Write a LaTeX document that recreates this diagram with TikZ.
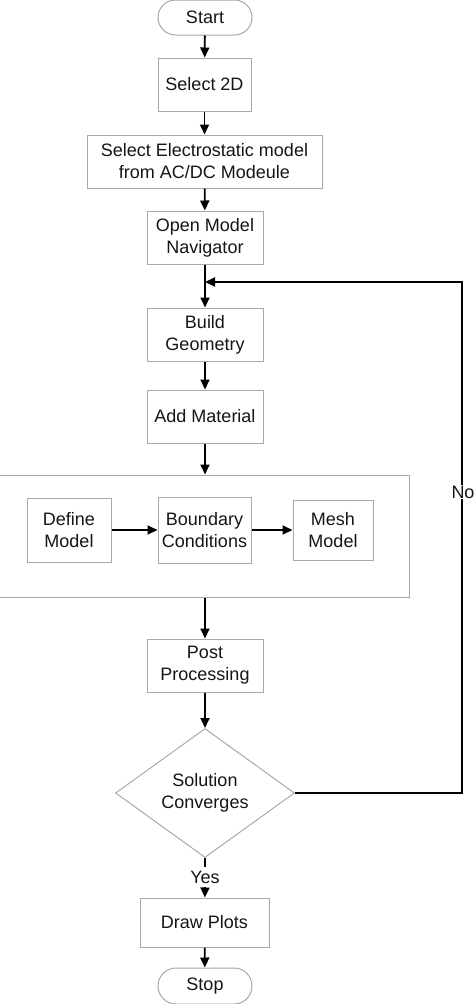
\documentclass[tikz,border=0pt]{standalone}
\usepackage{fontspec}
\setmainfont{Liberation Sans}
\usetikzlibrary{arrows.meta,shapes.geometric,shapes.misc}
\definecolor{boxgray}{HTML}{A8A8A8}
\definecolor{inkc}{HTML}{151515}
\begin{document}
\begin{tikzpicture}[x=1pt,y=-1pt,
  every node/.style={font=\fontsize{18}{22}\selectfont, text=inkc, align=center},
  procbox/.style={draw=boxgray, line width=1pt, rectangle, inner sep=0pt},
  termbox/.style={draw=boxgray, line width=1pt, rounded rectangle, inner sep=0pt, minimum width=94pt},
  decbox/.style={draw=boxgray, line width=1pt, diamond, inner sep=0pt, minimum width=179pt, minimum height=129pt},
  arr/.style={draw=black, line width=1.8pt, -{Triangle[length=10pt,width=9pt]}},
  plainline/.style={draw=black, line width=1.8pt}
]
\useasboundingbox (0,0) rectangle (474,1004);
\node[termbox, minimum height=35pt] (start) at (205,17.5) {Start};
\node[procbox, minimum width=93pt, minimum height=53pt] (s2d) at (204.5,84.5) {Select 2D};
\node[procbox, minimum width=235pt, minimum height=53pt] (elec) at (204.5,161.5) {Select Electrostatic model\\from AC/DC Modeule};
\node[procbox, minimum width=116pt, minimum height=53pt] (nav) at (205,237.5) {Open Model\\Navigator};
\node[procbox, minimum width=116pt, minimum height=53pt] (geo) at (205,334.5) {Build\\Geometry};
\node[procbox, minimum width=116pt, minimum height=53pt] (mat) at (205,416.5) {Add Material};
\node[procbox, minimum width=411pt, minimum height=122pt] (cont) at (204,536) {};
\node[procbox, minimum width=84pt, minimum height=64pt] (def) at (69,530) {Define\\Model};
\node[procbox, minimum width=93pt, minimum height=66pt] (bnd) at (204.5,530) {Boundary\\Conditions};
\node[procbox, minimum width=80pt, minimum height=60pt] (mesh) at (333,530) {Mesh\\Model};
\node[procbox, minimum width=116pt, minimum height=53pt] (post) at (205,665.5) {Post\\Processing};
\node[decbox] (dec) at (205,793) {Solution\\Converges};
\node[inner sep=0pt, minimum height=20pt] (yes) at (205,877) {Yes};
\node[procbox, minimum width=129pt, minimum height=49pt] (plots) at (204.5,922.5) {Draw Plots};
\node[termbox, minimum height=36pt] (stop) at (205,986) {Stop};
\coordinate (fb) at (462,282);
\coordinate (fbin) at (205,282);

\draw[arr] (start) -- (s2d);
\draw[arr] (s2d) -- (elec);
\draw[arr] (elec) -- (nav);
\draw[arr] (nav) -- (geo);
\draw[arr] (geo) -- (mat);
\draw[arr] (mat) -- (cont.north -| mat.south);
\draw[arr] (def) -- (bnd);
\draw[arr] (bnd) -- (mesh);
\draw[arr] (cont.south -| post.north) -- (post);
\draw[arr] (post) -- (dec);
\draw[plainline] (dec.south) -- (yes.north);
\draw[arr] (yes.south) -- (plots);
\draw[arr] (plots) -- (stop);
\draw[arr] (dec.east) -| (fb) -- (fbin);
\node[fill=white, inner sep=1pt] (no) at (463,492) {No};
\end{tikzpicture}
\end{document}
